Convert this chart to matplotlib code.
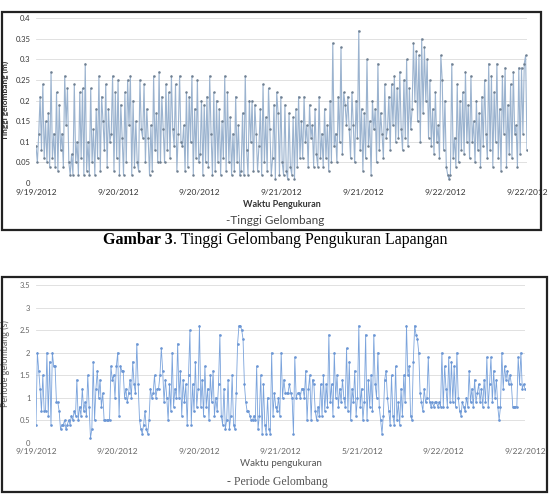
import numpy as np
import matplotlib
matplotlib.use("Agg")
import matplotlib.pyplot as plt
from matplotlib.patches import Rectangle

plt.rcParams["font.family"] = ["Lato", "DejaVu Sans"]

# tinggi gelombang (m)
tinggi = [
    0.09, 0.05, 0.12, 0.21, 0.08, 0.24, 0.06, 0.15, 0.05, 0.17, 0.04, 0.27, 0.06, 0.12, 0.04,
    0.22, 0.03, 0.19, 0.08, 0.12, 0.04, 0.26, 0.14, 0.23, 0.05, 0.02, 0.07, 0.02, 0.24, 0.05,
    0.10, 0.02, 0.22, 0.06, 0.23, 0.02, 0.29, 0.03, 0.10, 0.02, 0.23, 0.05, 0.13, 0.02, 0.18,
    0.06, 0.26, 0.03, 0.21, 0.15, 0.08, 0.24, 0.04, 0.18, 0.10, 0.12, 0.26, 0.03, 0.22, 0.06,
    0.25, 0.02, 0.19, 0.11, 0.02, 0.22, 0.05, 0.25, 0.14, 0.26, 0.02, 0.20, 0.04, 0.15, 0.05,
    0.03, 0.25, 0.13, 0.11, 0.24, 0.05, 0.18, 0.11, 0.02, 0.14, 0.03, 0.26, 0.08, 0.17, 0.05,
    0.27, 0.05, 0.21, 0.13, 0.05, 0.24, 0.08, 0.22, 0.06, 0.26, 0.13, 0.09, 0.24, 0.03, 0.12,
    0.26, 0.10, 0.09, 0.14, 0.03, 0.22, 0.04, 0.21, 0.10, 0.26, 0.02, 0.18, 0.06, 0.25, 0.05,
    0.07, 0.20, 0.02, 0.19, 0.05, 0.21, 0.04, 0.26, 0.12, 0.02, 0.22, 0.03, 0.20, 0.05, 0.18,
    0.02, 0.15, 0.06, 0.26, 0.03, 0.22, 0.05, 0.16, 0.02, 0.12, 0.03, 0.21, 0.05, 0.14, 0.02,
    0.03, 0.17, 0.02, 0.26, 0.08, 0.02, 0.20, 0.10, 0.20, 0.03, 0.19, 0.12, 0.03, 0.09, 0.18,
    0.02, 0.24, 0.05, 0.16, 0.03, 0.23, 0.13, 0.02, 0.06, 0.19, 0.01, 0.22, 0.17, 0.02, 0.21,
    0.05, 0.02, 0.19, 0.03, 0.01, 0.17, 0.04, 0.02, 0.16, 0.01, 0.18, 0.04, 0.21, 0.06, 0.15,
    0.06, 0.21, 0.10, 0.14, 0.04, 0.19, 0.11, 0.14, 0.04, 0.18, 0.07, 0.04, 0.21, 0.06, 0.12,
    0.04, 0.18, 0.06, 0.14, 0.03, 0.20, 0.05, 0.34, 0.09, 0.12, 0.05, 0.21, 0.10, 0.33, 0.07,
    0.22, 0.19, 0.14, 0.21, 0.13, 0.06, 0.22, 0.14, 0.05, 0.20, 0.11, 0.37, 0.08, 0.18, 0.03,
    0.17, 0.06, 0.30, 0.09, 0.15, 0.02, 0.20, 0.13, 0.18, 0.05, 0.29, 0.08, 0.17, 0.12, 0.06,
    0.24, 0.11, 0.13, 0.21, 0.08, 0.24, 0.14, 0.26, 0.10, 0.23, 0.11, 0.27, 0.13, 0.08, 0.25,
    0.11, 0.30, 0.09, 0.23, 0.13, 0.18, 0.34, 0.20, 0.32, 0.15, 0.31, 0.10, 0.35, 0.17, 0.33,
    0.20, 0.30, 0.11, 0.25, 0.09, 0.18, 0.07, 0.22, 0.10, 0.14, 0.06, 0.31, 0.25, 0.08, 0.20,
    0.04, 0.02, 0.01, 0.02, 0.29, 0.06, 0.11, 0.04, 0.24, 0.05, 0.20, 0.08, 0.22, 0.07, 0.27,
    0.10, 0.19, 0.06, 0.26, 0.10, 0.15, 0.05, 0.20, 0.08, 0.17, 0.04, 0.21, 0.09, 0.25, 0.12,
    0.06, 0.29, 0.08, 0.26, 0.04, 0.22, 0.10, 0.29, 0.06, 0.18, 0.03, 0.26, 0.12, 0.28, 0.04,
    0.19, 0.07, 0.24, 0.06, 0.27, 0.12, 0.14, 0.04, 0.28, 0.07, 0.28, 0.12, 0.29, 0.31, 0.08,
]

# periode gelombang (s)
periode = [
    0.4, 2.0, 1.6, 1.2, 0.7, 1.5, 0.7, 0.7, 2.0, 0.6, 1.8, 0.4, 2.0, 1.7, 1.7,
    0.9, 0.9, 0.7, 0.3, 0.4, 0.4, 0.5, 0.3, 0.4, 0.5, 0.4, 0.6, 0.5, 0.7, 0.6,
    1.4, 0.5, 0.8, 0.6, 1.2, 0.7, 0.9, 0.6, 1.5, 0.8, 0.1, 0.3, 1.8, 0.5, 1.2,
    1.6, 1.0, 1.4, 0.8, 1.1, 0.5, 0.5, 0.5, 0.5, 0.5, 1.7, 1.4, 1.5, 1.0, 1.7,
    2.0, 0.6, 1.7, 1.6, 1.6, 1.0, 1.2, 0.9, 1.1, 1.4, 1.0, 1.8, 1.3, 1.1, 2.2,
    1.3, 0.5, 0.3, 0.2, 0.4, 0.7, 0.3, 0.2, 0.5, 1.2, 1.0, 1.1, 1.5, 1.0, 1.2,
    1.2, 1.5, 2.1, 1.6, 0.9, 1.4, 1.0, 0.5, 1.3, 0.7, 2.0, 0.8, 1.2, 1.0, 2.2,
    1.0, 1.6, 0.6, 1.4, 0.9, 1.3, 0.4, 1.5, 2.5, 0.4, 1.3, 0.7, 1.8, 0.8, 1.2,
    2.6, 0.8, 1.4, 0.6, 1.7, 0.8, 1.2, 0.5, 1.5, 0.9, 1.6, 0.6, 1.0, 0.7, 1.3,
    2.4, 0.6, 0.4, 1.2, 0.3, 0.5, 1.4, 0.3, 0.6, 1.5, 0.4, 0.3, 1.1, 2.2, 2.6,
    2.6, 2.5, 2.3, 1.3, 0.9, 0.7, 0.7, 0.6, 0.5, 0.5, 0.6, 0.5, 1.7, 0.3, 0.6,
    1.5, 0.2, 1.3, 0.4, 0.2, 1.0, 0.3, 0.2, 2.0, 0.6, 1.1, 0.8, 0.7, 1.0, 0.6,
    2.0, 1.0, 1.4, 1.1, 1.1, 1.1, 1.3, 1.1, 1.0, 0.2, 1.9, 1.0, 1.1, 1.1, 1.0,
    1.2, 1.2, 1.0, 1.6, 0.5, 1.2, 1.5, 0.5, 1.4, 1.3, 0.7, 0.5, 0.8, 0.6, 1.3,
    0.6, 1.5, 0.7, 1.3, 0.8, 2.4, 0.9, 1.3, 0.6, 2.0, 1.0, 1.5, 0.8, 1.2, 0.9,
    1.4, 1.0, 0.8, 2.1, 0.7, 1.8, 0.5, 1.2, 0.9, 1.6, 0.6, 1.0, 2.6, 0.8, 1.2,
    0.5, 0.9, 2.4, 0.5, 1.4, 0.8, 1.5, 0.7, 2.4, 1.3, 1.0, 2.0, 0.8, 0.5, 0.2,
    0.6, 1.4, 1.6, 1.0, 0.7, 0.4, 1.5, 0.6, 0.4, 1.7, 0.5, 0.9, 0.4, 1.2, 0.6,
    1.5, 0.9, 2.6, 1.5, 1.7, 0.6, 0.5, 1.8, 2.6, 2.4, 2.3, 2.0, 1.1, 0.9, 0.7,
    1.2, 0.9, 1.0, 1.9, 0.9, 0.8, 0.9, 0.8, 0.9, 0.9, 0.8, 0.9, 0.8, 2.0, 0.8,
    1.7, 1.2, 0.8, 1.9, 0.9, 1.8, 0.9, 1.7, 0.8, 2.0, 1.0, 0.7, 0.6, 0.9, 0.8,
    0.7, 1.0, 0.8, 1.6, 0.9, 1.2, 0.8, 1.4, 0.9, 1.1, 1.3, 0.9, 1.2, 0.8, 1.4,
    0.9, 1.9, 0.8, 1.3, 1.9, 0.9, 1.6, 1.0, 1.4, 0.8, 0.5, 0.8, 2.0, 1.2, 1.7,
    1.4, 1.6, 1.3, 1.5, 1.3, 0.8, 0.8, 0.8, 0.8, 1.9, 1.3, 2.0, 1.2, 1.3, 1.2,
]

tanggal_atas = ["9/19/2012", "9/20/2012", "9/20/2012", "9/21/2012",
                "9/21/2012", "9/22/2012", "9/22/2012"]
tanggal_bawah = ["9/19/2012", "9/20/2012", "9/20/2012", "9/21/2012",
                 "5/21/2012", "9/22/2012", "9/22/2012"]
y_atas = [0, 0.05, 0.1, 0.15, 0.2, 0.25, 0.3, 0.35, 0.4]
y_bawah = [0, 0.5, 1, 1.5, 2, 2.5, 3, 3.5]

W, H = 550, 496
fig = plt.figure(figsize=(5.5, 4.96), dpi=100)


def fx(px):
    return px / W


def fy(py):
    return 1 - py / H


def style(ax, yt, labels, n, col):
    ax.set_yticks(yt)
    ax.set_yticklabels([f"{v:g}" for v in yt])
    ax.set_ylim(yt[0], yt[-1])
    ax.set_xlim(0, n - 1)
    ax.set_xticks(np.linspace(0, n - 1, 7))
    ax.set_xticklabels(labels)
    ax.tick_params(axis="x", length=0, labelsize=6, colors=col, pad=4)
    ax.tick_params(axis="y", length=0, labelsize=5.5, colors=col, pad=4)
    for s in ax.spines.values():
        s.set_visible(False)
    ax.grid(axis="y", color="#dcdcdc", linewidth=0.6)
    ax.set_axisbelow(True)


# outer frames
fig.patches.append(Rectangle((fx(2), fy(230)), fx(539), 218 / H, fill=False,
                             edgecolor="#222222", linewidth=1.6, transform=fig.transFigure))
fig.patches.append(Rectangle((fx(2), fy(492)), fx(545), 215 / H, fill=False,
                             edgecolor="#222222", linewidth=1.6, transform=fig.transFigure))

# top chart
ax1 = fig.add_axes([fx(36), fy(183), fx(491), (183 - 18.3) / H])
x1 = np.arange(len(tinggi))
ax1.plot(x1, tinggi, color="#9bb3cf", linewidth=0.8, marker="o", markersize=0.8,
         markerfacecolor="#6f7f90", markeredgecolor="#6f7f90")
style(ax1, y_atas, tanggal_atas, len(tinggi), "#333333")
ax1.set_ylabel("Tinggi gelombang (m)", fontsize=6, fontweight="bold", color="#333333")
ax1.yaxis.set_label_coords(-0.056, 0.5)
ax1.set_xlabel("Waktu Pengukuran", fontsize=6.5, fontweight="bold", color="#333333", labelpad=3)
fig.text(fx(275), fy(220), "-Tinggi Gelombang", ha="center", va="center",
         fontsize=8.5, color="#444444")

# bottom chart
ax2 = fig.add_axes([fx(36), fy(442.7), fx(489), (442.7 - 285) / H])
x2 = np.arange(len(periode))
ax2.plot(x2, periode, color="#7aa3dc", linewidth=0.6, marker="o", markersize=0.9,
         markerfacecolor="#6b96d4", markeredgecolor="#6b96d4")
style(ax2, y_bawah, tanggal_bawah, len(periode), "#666666")
ax2.set_ylabel("Periode gelombang (s)", fontsize=6.5, color="#666666")
ax2.yaxis.set_label_coords(-0.054, 0.5)
ax2.set_xlabel("Waktu pengukuran", fontsize=7, color="#555555", labelpad=3)
fig.text(fx(277), fy(482), "- Periode Gelombang", ha="center", va="center",
         fontsize=8.5, color="#555555", family="Liberation Serif")

# caption between the two charts
fig.canvas.draw()
r = fig.canvas.get_renderer()
t1 = fig.text(0, fy(240), "Gambar 3", fontsize=11.5, fontweight="bold",
              family="Liberation Serif", va="center")
t2 = fig.text(0, fy(240), ". Tinggi Gelombang Pengukuran Lapangan", fontsize=11.5,
              family="Liberation Serif", va="center")
w1 = t1.get_window_extent(r).width
w2 = t2.get_window_extent(r).width
x0 = (275 - (w1 + w2) / 2)
t1.set_x(fx(x0))
t2.set_x(fx(x0 + w1))

fig.savefig("out.png", dpi=100)
